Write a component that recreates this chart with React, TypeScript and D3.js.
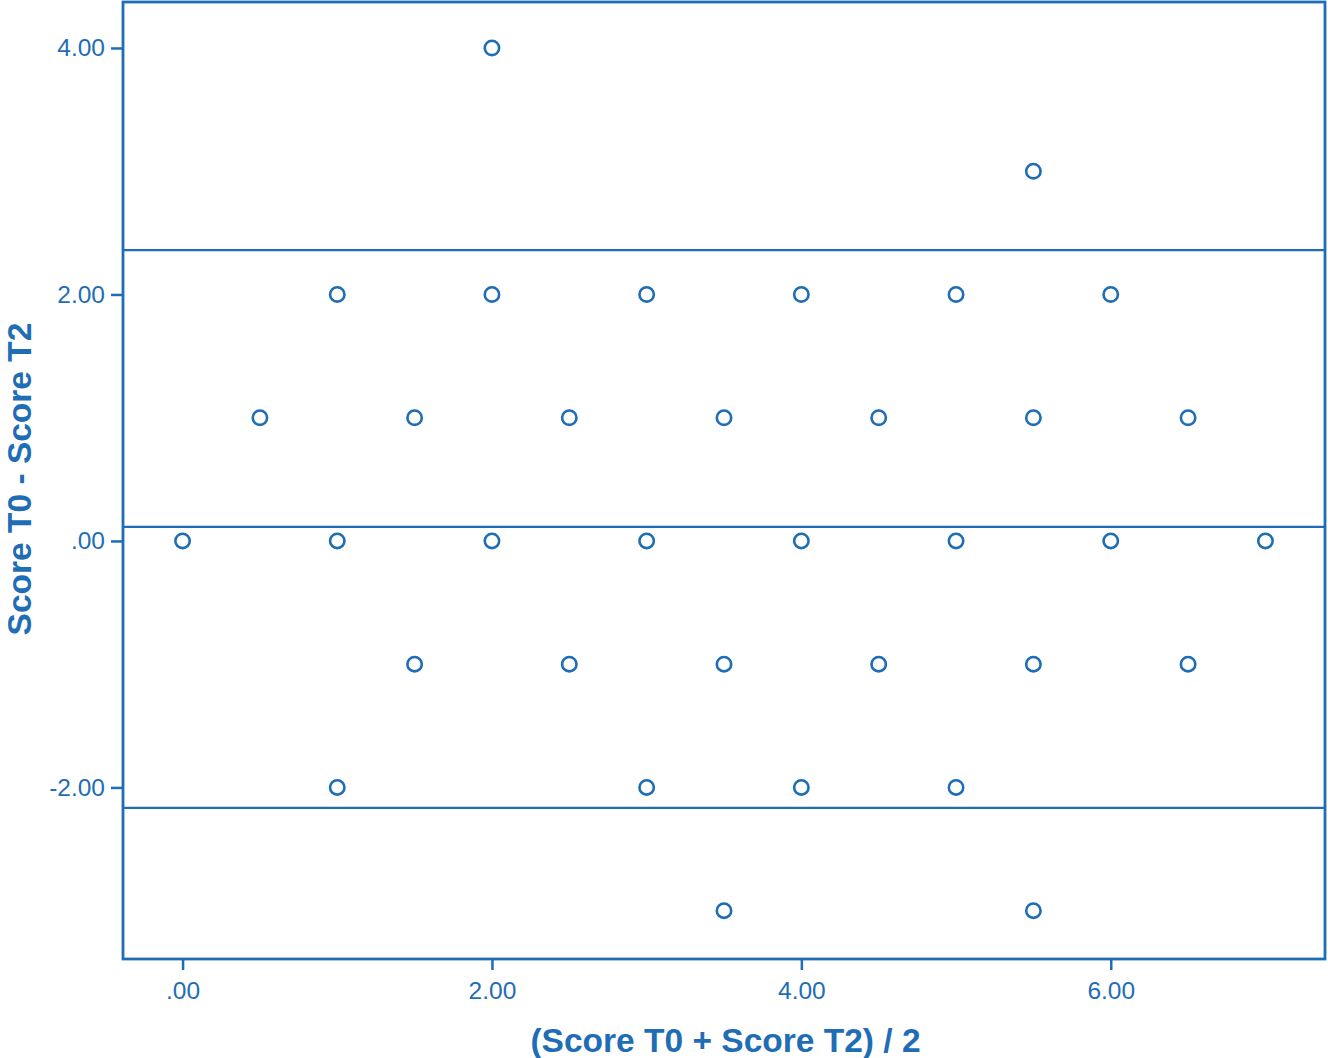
import React from 'react';
import * as d3 from 'd3';

const width = 1328;
const height = 1058;
const margin = {top: 2, right: 3, bottom: 99, left: 123};
const blue = '#1f6db5';
const font = 'Arial, "Liberation Sans", sans-serif';

// (Score T0 + Score T2) / 2
const meanScores = [0, 0.5, 1, 1, 1, 1.5, 1.5, 2, 2, 2, 2.5, 2.5, 3, 3, 3, 3.5, 3.5, 3.5, 4, 4, 4, 4.5, 4.5, 5, 5, 5, 5.5, 5.5, 5.5, 5.5, 6, 6, 6.5, 6.5, 7];
// Score T0 - Score T2
const diffScores = [0, 1, 2, 0, -2, 1, -1, 4, 2, 0, 1, -1, 2, 0, -2, 1, -1, -3, 2, 0, -2, 1, -1, 2, 0, -2, 3, 1, -1, -3, 2, 0, 1, -1, 0];

const xTicks = [0, 2, 4, 6];
const yTicks = [-2, 0, 2, 4];
// mean difference and limits of agreement
const refLines = [2.36, 0.114, -2.165];

const fmt = (v: number) => (v === 0 ? '.00' : v.toFixed(2));

const App: React.FC = () => {
  const xAxisRef = React.useRef<SVGGElement>(null);
  const yAxisRef = React.useRef<SVGGElement>(null);

  const xScale = d3.scaleLinear()
    .domain([-0.385, 7.385])
    .range([margin.left, width - margin.right]);

  const yScale = d3.scaleLinear()
    .domain([-3.392, 4.373])
    .range([height - margin.bottom, margin.top]);

  React.useEffect(() => {
    const xAxis = d3.axisBottom(xScale).tickValues(xTicks).tickFormat(d => fmt(d as number)).tickSize(10).tickPadding(12);
    const yAxis = d3.axisLeft(yScale).tickValues(yTicks).tickFormat(d => fmt(d as number)).tickSize(11).tickPadding(6);
    if (xAxisRef.current) {
      const g = d3.select(xAxisRef.current).call(xAxis);
      g.select('.domain').remove();
      g.selectAll('line').attr('stroke', blue).attr('stroke-width', 2.5);
      g.selectAll('text').attr('fill', blue).attr('font-size', 24.5).attr('font-family', font);
    }
    if (yAxisRef.current) {
      const g = d3.select(yAxisRef.current).call(yAxis);
      g.select('.domain').remove();
      g.selectAll('line').attr('stroke', blue).attr('stroke-width', 2.5);
      g.selectAll('text').attr('fill', blue).attr('font-size', 24.5).attr('font-family', font);
    }
  }, []);

  const [x0, x1] = xScale.range();
  const [y0, y1] = yScale.range();

  return (
    <svg width={width} height={height} style={{position: 'absolute', left: 0, top: 0}}>
      <rect x={0} y={0} width={width} height={height} fill='white' />
      {refLines.map((v, i) => (
        <line key={i} x1={x0} x2={x1} y1={yScale(v)} y2={yScale(v)} stroke={blue} strokeWidth={2.2} />
      ))}
      {meanScores.map((m, i) => (
        <circle key={i} cx={xScale(m)} cy={yScale(diffScores[i])} r={7.2} fill='white' stroke={blue} strokeWidth={2.6} />
      ))}
      <rect x={x0} y={y1} width={x1 - x0} height={y0 - y1} fill='none' stroke={blue} strokeWidth={2.8} />
      <g ref={xAxisRef} transform={`translate(0, ${y0 + 1})`} />
      <g ref={yAxisRef} transform={`translate(${x0 - 1}, 0)`} />
      <text x={725.5} y={1052} textAnchor='middle' fill={blue} fontFamily={font} fontWeight='bold' fontSize={33.5}>
        (Score T0 + Score T2) / 2
      </text>
      <text transform={`translate(31, 479) rotate(-90)`} textAnchor='middle' fill={blue} fontFamily={font} fontWeight='bold' fontSize={33.5}>
        Score T0 - Score T2
      </text>
    </svg>
  );
};

export default App;
